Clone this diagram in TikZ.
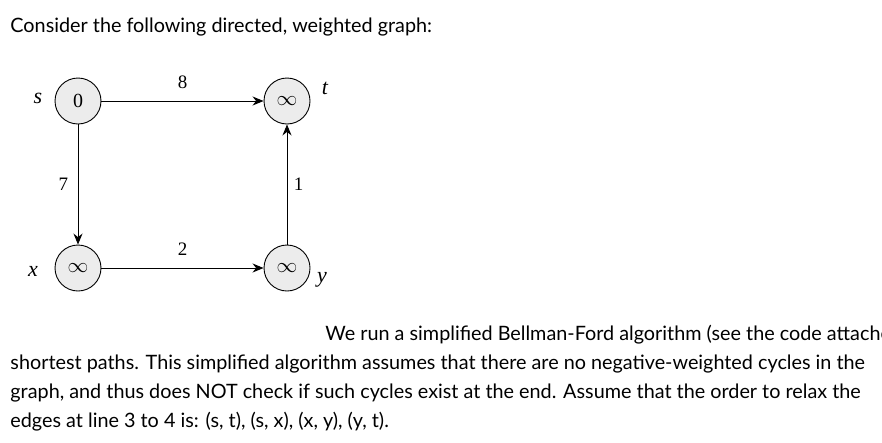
\documentclass[tikz,border=0pt]{standalone}
\usepackage{fontspec}
\setmainfont{Lato}
\newfontfamily\gser{Liberation Serif}
\usetikzlibrary{arrows.meta}
\begin{document}
\begin{tikzpicture}[x=1pt,y=-1pt,line width=0.9pt,
  vtx/.style={circle,draw,fill=gray!15,minimum size=46pt,inner sep=0pt,font=\gser\fontsize{20}{20}\selectfont},
  lbl/.style={font=\gser\itshape\fontsize{22}{22}\selectfont},
  wt/.style={font=\gser\fontsize{19}{19}\selectfont},
  edge/.style={draw,-{Stealth[length=11pt,width=9pt]}},
  txt/.style={anchor=base west,inner sep=0pt,font=\fontsize{19.8}{22}\selectfont}]
\useasboundingbox (0,0) rectangle (882,442);
\node[txt] (h) at (10,32) {Consider the following directed, weighted graph:};
\node[vtx] (s) at (78,101) {0};
\node[vtx] (t) at (287,101) {$\infty$};
\node[vtx] (x) at (78,268) {$\infty$};
\node[vtx] (y) at (287,268) {$\infty$};
\node[lbl] (ls) at (38,98) {s};
\node[lbl] (lt) at (325,88) {t};
\node[lbl] (lx) at (33,271) {x};
\node[lbl] (ly) at (322,280) {y};
\draw[edge] (s) -- node[wt,above=9pt] (w8) {8} (t);
\draw[edge] (s) -- node[wt,left=6pt] (w7) {7} (x);
\draw[edge] (x) -- node[wt,above=9pt] (w2) {2} (y);
\draw[edge] (y) -- node[wt,right=3pt] (w1) {1} (t);
\node[txt] (p1) at (325,340) {We run a simplified Bellman-Ford algorithm (see the code attached below) to find its single-source};
\node[txt] (p2) at (10,369) {shortest paths. This simplified algorithm assumes that there are no negative-weighted cycles in the};
\node[txt] (p3) at (10,398) {graph, and thus does NOT check if such cycles exist at the end. Assume that the order to relax the};
\node[txt] (p4) at (10,427) {edges at line 3 to 4 is: (s, t), (s, x), (x, y), (y, t).};
\end{tikzpicture}
\end{document}
